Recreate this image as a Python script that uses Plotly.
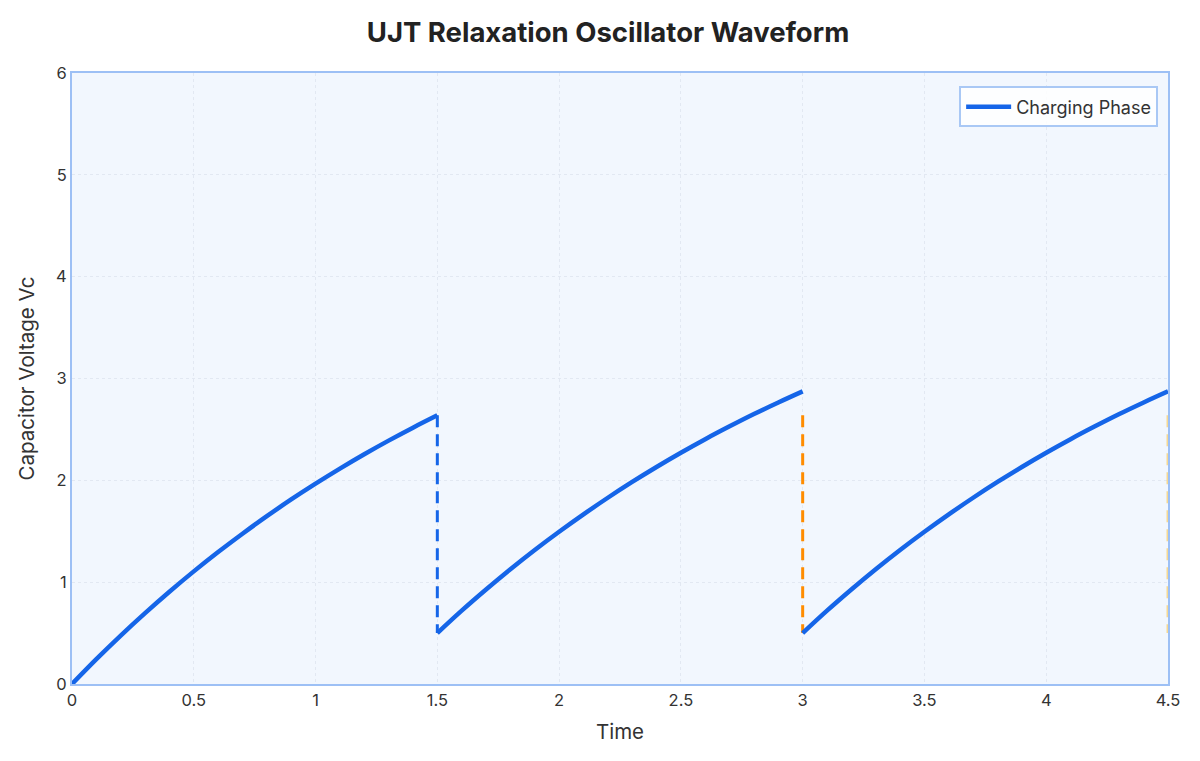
import plotly.graph_objects as go

# charging curves at 0.1 s steps
t1 = [0.0, 0.1, 0.2, 0.3, 0.4, 0.5, 0.6, 0.7, 0.8, 0.9, 1.0, 1.1, 1.2, 1.3, 1.4, 1.5]
v1 = [0.0, 0.244, 0.476, 0.696, 0.906, 1.106, 1.296, 1.476, 1.648, 1.812, 1.967, 2.115, 2.256, 2.390, 2.517, 2.638]

t2 = [1.5, 1.6, 1.7, 1.8, 1.9, 2.0, 2.1, 2.2, 2.3, 2.4, 2.5, 2.6, 2.7, 2.8, 2.9, 3.0]
v2 = [0.5, 0.720, 0.928, 1.127, 1.316, 1.495, 1.666, 1.829, 1.984, 2.131, 2.271, 2.404, 2.530, 2.651, 2.765, 2.874]

t3 = [3.0, 3.1, 3.2, 3.3, 3.4, 3.5, 3.6, 3.7, 3.8, 3.9, 4.0, 4.1, 4.2, 4.3, 4.4, 4.5]
v3 = [0.5, 0.720, 0.928, 1.127, 1.316, 1.495, 1.666, 1.829, 1.984, 2.131, 2.271, 2.404, 2.530, 2.651, 2.765, 2.874]

# discharge drops (peak voltage -> valley voltage)
drop_t = [1.5, 3.0, 4.5]
drop_top = 2.64
drop_bottom = 0.5
drop_colors = ["#1565E8", "#FF8C00", "rgba(245,205,110,0.75)"]

blue = "#1565E8"
font = "Inter, Lato, sans-serif"

fig = go.Figure()

for tt, col in zip(drop_t, drop_colors):
    fig.add_trace(go.Scatter(
        x=[tt, tt], y=[drop_top, drop_bottom],
        mode="lines",
        line=dict(color=col, width=3, dash="12px,7px"),
        showlegend=False, hoverinfo="skip",
    ))

for i, (tx, vy) in enumerate([(t1, v1), (t2, v2), (t3, v3)]):
    fig.add_trace(go.Scatter(
        x=tx, y=vy,
        mode="lines",
        line=dict(color=blue, width=4.5, shape="spline"),
        name="Charging Phase",
        legendgroup="charge",
        showlegend=(i == 0),
    ))

axis_style = dict(
    showline=True, linecolor="#9DC0F5", linewidth=2, mirror=True,
    showgrid=True, gridcolor="#E2E8F2", griddash="dot", gridwidth=1,
    zeroline=False, ticks="", tickfont=dict(size=16.5, color="#333333", family=font),
    title_font=dict(size=20.5, color="#333333", family=font),
)

# page body adds an 8px offset, so margins are shifted to compensate
fig.update_layout(
    width=1200, height=761,
    paper_bgcolor="white",
    plot_bgcolor="#F2F7FE",
    margin=dict(l=64, r=40, t=65, b=85),
    title=dict(
        text="<b>UJT Relaxation Oscillator Waveform</b>",
        x=0.5, xanchor="center", y=0.968, yanchor="middle",
        font=dict(size=27.5, color="#222222", family=font),
    ),
    legend=dict(
        x=0.991, xanchor="right", y=0.978, yanchor="top",
        bgcolor="rgba(255,255,255,0.85)",
        bordercolor="#A9C8F5", borderwidth=2,
        itemwidth=45,
        font=dict(size=18, color="#333333", family=font),
    ),
    font=dict(family=font),
)

fig.update_xaxes(range=[0, 4.5], dtick=0.5, title_text="Time", title_standoff=16, **axis_style)
fig.update_yaxes(range=[0, 6], dtick=1, title_text="Capacitor Voltage Vc", title_standoff=16, **axis_style)

fig.write_html("out.html")
